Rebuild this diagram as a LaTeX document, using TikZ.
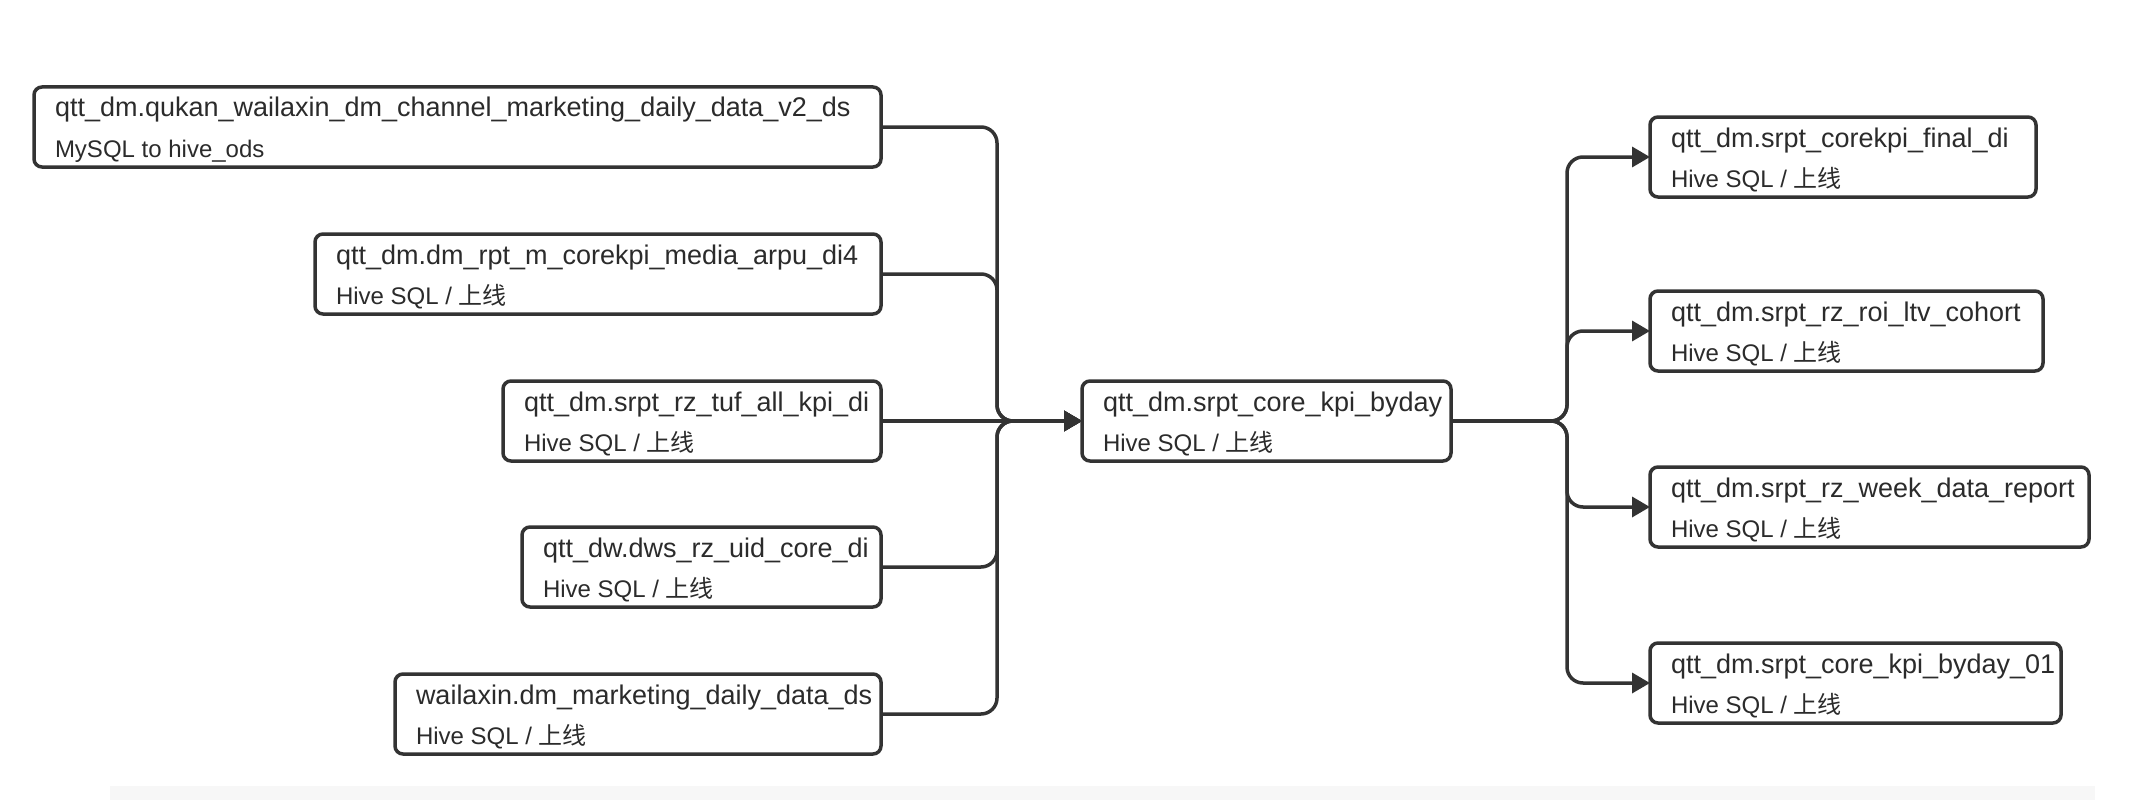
\documentclass[tikz,border=0pt]{standalone}
\usepackage{fontspec}
\setmainfont{Liberation Sans}
\newfontfamily\cjk{Noto Sans CJK SC}
\usetikzlibrary{arrows.meta,calc}
\definecolor{lc}{HTML}{333333}
\definecolor{tc}{HTML}{2B2B2B}
\definecolor{band}{HTML}{F7F7F7}
\tikzset{
  tbox/.style={draw=lc, line width=3.5pt, rounded corners=8pt, minimum height=80pt,
    inner sep=0pt, outer sep=0pt, anchor=north west, fill=white},
  tone/.style={anchor=base west, inner sep=0pt, outer sep=0pt, text=tc, font=\fontsize{27}{32}\selectfont},
  ttwo/.style={anchor=base west, inner sep=0pt, outer sep=0pt, text=tc, font=\fontsize{24}{28}\selectfont},
  conn/.style={draw=lc, line width=3.5pt, rounded corners=16pt},
  arr/.style={conn, -{Triangle[length=18pt,width=20pt]}}
}
\newcommand\tblnode[6]{%
  \node[tbox, minimum width=#4pt] (#1) at (#2,#3) {};
  \node[tone] (#1-t) at ($(#1.north west)+(21,30)$) {#5};
  \node[ttwo] (#1-s) at ($(#1.north west)+(21,70)$) {#6};
}
\begin{document}
\begin{tikzpicture}[x=1pt,y=-1pt]
\useasboundingbox[fill=white] (0,0) rectangle (2156,800);
\fill[band] (110,786) rectangle (2095,800);

\tblnode{n1}{34}{87}{847}{qtt\_dm.qukan\_wailaxin\_dm\_channel\_marketing\_daily\_data\_v2\_ds}{MySQL to hive\_ods}
\tblnode{n2}{315}{234}{566}{qtt\_dm.dm\_rpt\_m\_corekpi\_media\_arpu\_di4}{Hive SQL / {\cjk 上线}}
\tblnode{n3}{503}{381}{378}{qtt\_dm.srpt\_rz\_tuf\_all\_kpi\_di}{Hive SQL / {\cjk 上线}}
\tblnode{n4}{522}{527}{359}{qtt\_dw.dws\_rz\_uid\_core\_di}{Hive SQL / {\cjk 上线}}
\tblnode{n5}{395}{674}{486}{wailaxin.dm\_marketing\_daily\_data\_ds}{Hive SQL / {\cjk 上线}}

\tblnode{c}{1082}{381}{369}{qtt\_dm.srpt\_core\_kpi\_byday}{Hive SQL / {\cjk 上线}}

\tblnode{r1}{1650}{117}{386}{qtt\_dm.srpt\_corekpi\_final\_di}{Hive SQL / {\cjk 上线}}
\tblnode{r2}{1650}{291}{393}{qtt\_dm.srpt\_rz\_roi\_ltv\_cohort}{Hive SQL / {\cjk 上线}}
\tblnode{r3}{1650}{467}{439}{qtt\_dm.srpt\_rz\_week\_data\_report}{Hive SQL / {\cjk 上线}}
\tblnode{r4}{1650}{643}{411}{qtt\_dm.srpt\_core\_kpi\_byday\_01}{Hive SQL / {\cjk 上线}}

\path (c.west) ++(-85,0) coordinate (mL);
\path (c.east) ++(116,0) coordinate (mR);

\foreach \s in {n1,n2,n4,n5}{
  \draw[arr] (\s.east) -| (mL) -- (c.west);
}
\draw[arr] (n3.east) -- (c.west);

\foreach \t in {r1,r2,r3,r4}{
  \draw[arr] (c.east) -- (mR) |- (\t.west);
}
\end{tikzpicture}
\end{document}
